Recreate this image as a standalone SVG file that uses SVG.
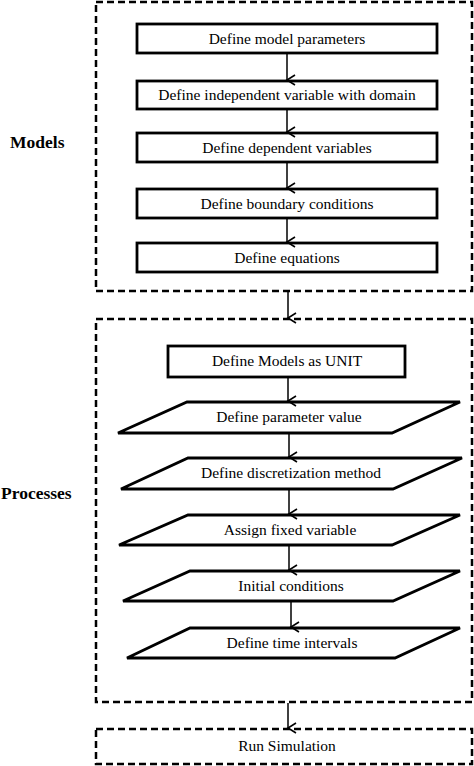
<svg xmlns="http://www.w3.org/2000/svg" width="474" height="766" viewBox="0 0 474 766">
<style>
.box{fill:#fff;stroke:#000;stroke-width:2.8}
.grp{fill:none;stroke:#000;stroke-width:2.5;stroke-dasharray:7 4}
.t{font-family:"Liberation Serif","Times New Roman",serif;font-size:15.5px;text-anchor:middle;fill:#000}
.lbl{font-family:"Liberation Serif","Times New Roman",serif;font-size:17.5px;font-weight:bold;fill:#000}
.c{stroke:#000;stroke-width:1.5;fill:none}
</style>
<defs>
<marker id="arr" markerUnits="userSpaceOnUse" markerWidth="14" markerHeight="14" refX="7" refY="10" orient="auto-start-reverse" viewBox="0 0 14 14">
<path d="M2,2 L7,10 L12,2" fill="none" stroke="#000" stroke-width="1.6"/>
</marker>
</defs>
<rect width="474" height="766" fill="#fff"/>
<g id="group-models">
<rect class="grp" x="96" y="2" width="376" height="289"/>
<text class="lbl" x="10" y="148">Models</text>
</g>
<g id="group-processes">
<rect class="grp" x="96" y="319" width="376" height="383"/>
<text class="lbl" x="1" y="499">Processes</text>
</g>
<g id="n1"><rect class="box" x="137" y="24" width="300" height="29"/><text class="t" x="287" y="43.5">Define model parameters</text></g>
<g id="n2"><rect class="box" x="137" y="81" width="300" height="28"/><text class="t" x="287" y="100">Define independent variable with domain</text></g>
<g id="n3"><rect class="box" x="137" y="133" width="300" height="29"/><text class="t" x="287" y="152.5">Define dependent variables</text></g>
<g id="n4"><rect class="box" x="137" y="189" width="300" height="29"/><text class="t" x="287" y="208.5">Define boundary conditions</text></g>
<g id="n5"><rect class="box" x="137" y="243" width="300" height="29"/><text class="t" x="287" y="262.5">Define equations</text></g>
<g id="n6"><rect class="box" x="168" y="346" width="237" height="31"/><text class="t" x="287" y="366">Define Models as UNIT</text></g>
<g id="n7"><polygon class="box" points="187,402 460,402 392,433 118,433"/><text class="t" x="289" y="422">Define parameter value</text></g>
<g id="n8"><polygon class="box" points="188,458 462,458 393,489 121,489"/><text class="t" x="291" y="478">Define discretization method</text></g>
<g id="n9"><polygon class="box" points="188,515 460,515 392,545 119,545"/><text class="t" x="290" y="535">Assign fixed variable</text></g>
<g id="n10"><polygon class="box" points="190,571 460,571 393,601 123,601"/><text class="t" x="291" y="591">Initial conditions</text></g>
<g id="n11"><polygon class="box" points="190,628 460,628 395,658 127,658"/><text class="t" x="292" y="648">Define time intervals</text></g>
<g id="n12"><rect class="grp" x="96" y="729" width="376" height="35"/><text class="t" x="287" y="751">Run Simulation</text></g>
<g id="connectors">
<line class="c" x1="287" y1="53" x2="287" y2="80" marker-end="url(#arr)"/>
<line class="c" x1="287" y1="109" x2="287" y2="132" marker-end="url(#arr)"/>
<line class="c" x1="287" y1="162" x2="287" y2="188" marker-end="url(#arr)"/>
<line class="c" x1="287" y1="218" x2="287" y2="242" marker-end="url(#arr)"/>
<line class="c" x1="288" y1="292" x2="288" y2="318" marker-end="url(#arr)"/>
<line class="c" x1="288" y1="377" x2="288" y2="401" marker-end="url(#arr)"/>
<line class="c" x1="289" y1="433" x2="289" y2="457" marker-end="url(#arr)"/>
<line class="c" x1="289" y1="489" x2="289" y2="514" marker-end="url(#arr)"/>
<line class="c" x1="289" y1="545" x2="289" y2="570" marker-end="url(#arr)"/>
<line class="c" x1="291" y1="601" x2="291" y2="627" marker-end="url(#arr)"/>
<line class="c" x1="288" y1="703" x2="288" y2="728" marker-end="url(#arr)"/>
</g>
</svg>
